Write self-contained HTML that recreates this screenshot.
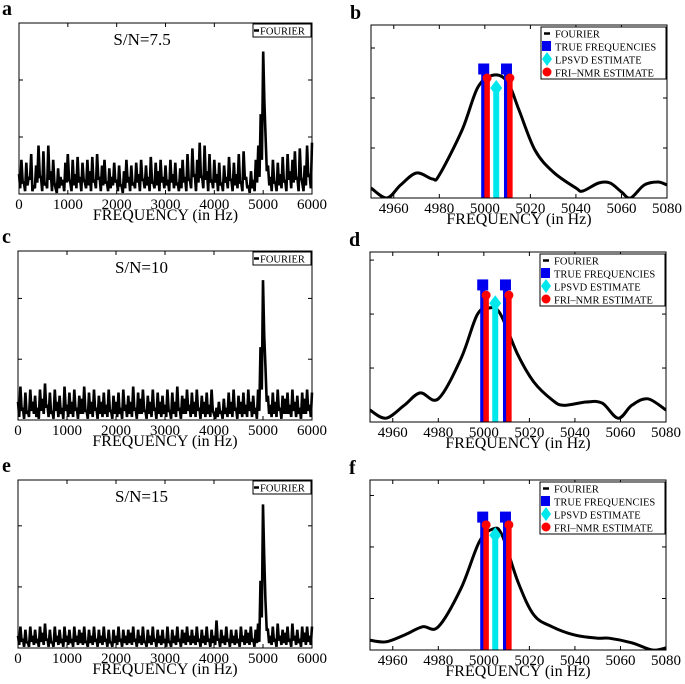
<!DOCTYPE html>
<html><head><meta charset="utf-8"><style>
html,body{margin:0;padding:0;background:#fff;}
svg{display:block;font-family:"Liberation Serif",serif;}
</style></head><body>
<svg id="fig" width="685" height="684" viewBox="0 0 685 684" xmlns="http://www.w3.org/2000/svg"></svg>
<script>
// ---------- DATA ----------
const wideTicks = [0,1000,2000,3000,4000,5000,6000];
const zoomTicks = [4960,4980,5000,5020,5040,5060,5080];
const noiseStep = 50; // Hz per bin; each bin has a max and a min value
const noiseA = [0.35,0.6,0.2,0.55,0.3,0.7,0.15,0.5,0.85,0.3,0.75,0.2,0.85,0.4,0.6,0.1,0.45,0.3,0.25,0.55,
 0.7,0.2,0.6,0.35,0.65,0.3,0.55,0.2,0.6,0.4,0.65,0.25,0.7,0.3,0.5,0.6,0.2,0.45,0.3,0.55,
 0.25,0.5,0.15,0.4,0.6,0.3,0.5,0.2,0.55,0.35,0.6,0.25,0.5,0.3,0.65,0.2,0.55,0.4,0.6,0.3,
 0.5,0.25,0.6,0.35,0.55,0.2,0.45,0.6,0.3,0.7,0.25,0.8,0.35,0.6,0.9,0.3,0.85,0.4,0.7,0.25,
 0.6,0.35,0.55,0.2,0.5,0.3,0.65,0.25,0.55,0.35,0.7,0.2,0.75,0.3,0.15,0.4,0.25,0.6,0.85,1.4,
 2.5,1.0,0.5,0.3,0.6,0.2,0.55,0.35,0.65,0.25,0.7,0.4,0.6,0.75,0.3,0.8,0.2,0.5,0.85,0.35,0.9];
const noiseALow = [0.1,0.2,0.05,0.15,0.25,0.05,0.1,0.2,0.3,0.05,0.15,0.1,0.25,0.05,0.2,0.02,0.1,0.15,0.05,0.2,
 0.25,0.05,0.15,0.1,0.2,0.05,0.25,0.1,0.15,0.05,0.2,0.1,0.25,0.05,0.15,0.2,0.05,0.1,0.15,0.2,
 0.05,0.15,0.02,0.1,0.2,0.05,0.15,0.1,0.2,0.05,0.25,0.1,0.15,0.05,0.2,0.1,0.15,0.05,0.2,0.1,
 0.15,0.05,0.2,0.1,0.15,0.05,0.1,0.2,0.05,0.25,0.1,0.3,0.05,0.2,0.3,0.1,0.25,0.05,0.2,0.1,
 0.2,0.05,0.15,0.05,0.2,0.1,0.25,0.05,0.15,0.1,0.2,0.05,0.25,0.1,0.02,0.1,0.05,0.2,0.3,0.6,
 1.6,0.4,0.15,0.05,0.2,0.05,0.15,0.1,0.2,0.05,0.25,0.1,0.2,0.25,0.05,0.3,0.05,0.15,0.3,0.1,0.3];
const noiseC = [0.3,0.55,0.2,0.45,0.15,0.5,0.3,0.4,0.2,0.5,0.35,0.6,0.25,0.45,0.15,0.5,0.3,0.4,0.2,0.55,
 0.25,0.45,0.3,0.5,0.2,0.4,0.35,0.55,0.15,0.45,0.3,0.5,0.2,0.4,0.3,0.45,0.25,0.5,0.15,0.4,
 0.3,0.45,0.2,0.5,0.25,0.4,0.3,0.55,0.2,0.45,0.35,0.5,0.15,0.4,0.3,0.5,0.2,0.45,0.3,0.4,
 0.25,0.5,0.15,0.45,0.3,0.55,0.2,0.4,0.35,0.5,0.25,0.45,0.3,0.5,0.2,0.4,0.3,0.45,0.25,0.5,
 0.1,0.2,0.3,0.15,0.35,0.2,0.45,0.3,0.5,0.2,0.4,0.3,0.45,0.25,0.5,0.3,0.4,0.2,0.5,1.2,
 2.3,0.9,0.4,0.25,0.45,0.3,0.5,0.2,0.4,0.35,0.45,0.25,0.5,0.3,0.4,0.2,0.45,0.35,0.5,0.25,0.45];
const noiseCLow = [0.05,0.15,0.02,0.1,0.05,0.15,0.1,0.05,0.02,0.15,0.1,0.2,0.05,0.1,0.02,0.15,0.05,0.1,0.02,0.15,
 0.05,0.1,0.05,0.15,0.02,0.1,0.1,0.15,0.02,0.1,0.05,0.15,0.02,0.1,0.05,0.1,0.05,0.15,0.02,0.1,
 0.05,0.1,0.02,0.15,0.05,0.1,0.05,0.15,0.02,0.1,0.1,0.15,0.02,0.1,0.05,0.15,0.02,0.1,0.05,0.1,
 0.05,0.15,0.02,0.1,0.05,0.15,0.02,0.1,0.1,0.15,0.05,0.1,0.05,0.15,0.02,0.1,0.05,0.1,0.05,0.15,
 0.02,0.05,0.1,0.02,0.1,0.05,0.1,0.05,0.15,0.02,0.1,0.05,0.1,0.05,0.15,0.05,0.1,0.02,0.15,0.5,
 1.4,0.3,0.1,0.05,0.1,0.05,0.15,0.02,0.1,0.1,0.1,0.05,0.15,0.05,0.1,0.02,0.1,0.1,0.15,0.05,0.1];
const noiseE = [0.2,0.35,0.15,0.3,0.1,0.35,0.2,0.3,0.15,0.35,0.25,0.4,0.15,0.3,0.1,0.35,0.2,0.3,0.15,0.35,
 0.2,0.3,0.15,0.35,0.2,0.3,0.25,0.35,0.1,0.3,0.2,0.35,0.15,0.3,0.2,0.35,0.15,0.3,0.1,0.3,
 0.2,0.35,0.15,0.3,0.2,0.3,0.25,0.35,0.15,0.3,0.2,0.35,0.1,0.3,0.2,0.35,0.15,0.3,0.2,0.3,
 0.15,0.35,0.1,0.3,0.2,0.35,0.15,0.3,0.25,0.35,0.2,0.3,0.2,0.35,0.15,0.3,0.2,0.35,0.15,0.3,
 0.2,0.45,0.15,0.3,0.2,0.35,0.15,0.3,0.2,0.3,0.15,0.35,0.2,0.3,0.25,0.35,0.15,0.3,0.4,1.1,
 2.35,0.8,0.3,0.2,0.35,0.15,0.4,0.2,0.3,0.25,0.35,0.15,0.4,0.2,0.3,0.15,0.35,0.25,0.35,0.2,0.35];
const noiseELow = [0.05,0.1,0.02,0.08,0.02,0.1,0.05,0.08,0.02,0.1,0.05,0.12,0.02,0.08,0.02,0.1,0.05,0.08,0.02,0.1,
 0.05,0.08,0.02,0.1,0.05,0.08,0.05,0.1,0.02,0.08,0.05,0.1,0.02,0.08,0.05,0.1,0.02,0.08,0.02,0.08,
 0.05,0.1,0.02,0.08,0.05,0.08,0.05,0.1,0.02,0.08,0.05,0.1,0.02,0.08,0.05,0.1,0.02,0.08,0.05,0.08,
 0.02,0.1,0.02,0.08,0.05,0.1,0.02,0.08,0.05,0.1,0.05,0.08,0.05,0.1,0.02,0.08,0.05,0.1,0.02,0.08,
 0.05,0.12,0.02,0.08,0.05,0.1,0.02,0.08,0.05,0.08,0.02,0.1,0.05,0.08,0.05,0.1,0.02,0.08,0.1,0.5,
 1.5,0.3,0.08,0.05,0.1,0.02,0.12,0.05,0.08,0.05,0.1,0.02,0.12,0.05,0.08,0.02,0.1,0.05,0.1,0.05,0.1];
const zoomFreqB = [4950,4957,4963,4970,4977,4980,4990,4997,5004,5010,5015,5022,5030,5040,5043,5050,5055,5060,5064,5070,5076,5080];
const zoomAmpB  = [0.2,0,0.26,0.5,0.38,0.46,1.36,2.22,2.46,2.32,1.76,0.96,0.52,0.2,0.14,0.3,0.3,0.12,0,0.26,0.32,0.26];
const zoomFreqD = [4950,4957,4965,4972,4980,4990,4997,5002,5007,5015,5022,5030,5035,5045,5052,5059,5065,5072,5080];
const zoomAmpD  = [0.22,0.07,0.31,0.54,0.43,1.18,1.98,2.11,2.02,1.24,0.74,0.41,0.31,0.37,0.35,0.07,0.31,0.43,0.22];
const zoomFreqF = [4950,4957,4965,4973,4980,4990,4998,5004,5008,5015,5022,5030,5040,5050,5055,5065,5074,5080];
const zoomAmpF  = [0.19,0.16,0.29,0.45,0.45,1.2,2.1,2.35,2.23,1.32,0.68,0.45,0.29,0.23,0.23,0.14,0,0.04];
const trueFreqs = [4999.5,5009.5];
const friFreqs = [5001,5011];
const lpsvdFreq = 5005;
const markerB = [2.58,2.4,2.2]; // true, fri, lpsvd heights
const markerD = [2.54,2.35,2.2];
const markerF = [2.58,2.43,2.23];
const snLabels = ["S/N=7.5","S/N=10","S/N=15"];

// ---------- DRAW ----------
const NS="http://www.w3.org/2000/svg";
const svg=document.getElementById('fig');
function el(tag,attrs,parent,text){const e=document.createElementNS(NS,tag);for(const k in attrs)e.setAttribute(k,attrs[k]);if(text!==undefined)e.textContent=text;(parent||svg).appendChild(e);return e;}

function frame(g,L,T,R,B,xmin,xmax,xticks,ymax,yticks){
  const sx=v=>L+(v-xmin)/(xmax-xmin)*(R-L);
  const sy=v=>B-v/ymax*(B-T);
  xticks.forEach(t=>{
    el('line',{x1:sx(t),x2:sx(t),y1:T,y2:T+4,stroke:'#000','stroke-width':1},g);
    el('line',{x1:sx(t),x2:sx(t),y1:B,y2:B-4,stroke:'#000','stroke-width':1},g);
    const tl=el('text',{x:sx(t),y:B+15,'font-size':15,'text-anchor':'middle'},g,String(t));
    
    
  });
  yticks.forEach(t=>{
    el('line',{x1:L,x2:L+4,y1:sy(t),y2:sy(t),stroke:'#000','stroke-width':1},g);
    el('line',{x1:R,x2:R-4,y1:sy(t),y2:sy(t),stroke:'#000','stroke-width':1},g);
  });
  const xl=el('text',{x:(L+R)/2,y:B+26,'font-size':16,'text-anchor':'middle'},g,'FREQUENCY (in Hz)');
  
  
  return {sx,sy};
}

function widePanel(name,letter,L,T,R,B,ymax,hi,lo,sn){
  const g=el('g',{},svg);
  
  
  const lt=el('text',{x:2,y:T-8,'font-size':20,'font-weight':'bold'},g,letter);
  
  
  const {sx,sy}=frame(g,L,T,R,B,0,6000,wideTicks,ymax,[1,2]);
  const pts=[];
  hi.forEach((v,i)=>{
    pts.push(sx(i*noiseStep).toFixed(1)+','+sy(v).toFixed(1));
    if(i<hi.length-1) pts.push(sx(i*noiseStep+noiseStep/2).toFixed(1)+','+sy(lo[i]).toFixed(1));
  });
  const pl=el('polyline',{points:pts.join(' '),fill:'none',stroke:'#000','stroke-width':2.6,'stroke-linejoin':'miter','stroke-miterlimit':2},g);
  
  
  el('rect',{x:L,y:T,width:R-L,height:B-T,fill:'none',stroke:'#000','stroke-width':1},g);
  const st=el('text',{x:L+(R-L)*0.42,y:T+22,'font-size':17,'text-anchor':'middle'},g,sn);
  
  
  const lg=el('g',{},g);
  
  
  el('rect',{x:R-59,y:T+1,width:58,height:13,fill:'#fff',stroke:'#000','stroke-width':1},lg);
  el('line',{x1:R-58,x2:R-53,y1:T+7.5,y2:T+7.5,stroke:'#000','stroke-width':2.5},lg);
  el('text',{x:R-52,y:T+11.5,'font-size':10.5},lg,'FOURIER');
}

function smoothPath(P){
  let d='M'+P[0][0]+','+P[0][1];
  for(let i=0;i<P.length-1;i++){
    const p0=P[Math.max(0,i-1)],p1=P[i],p2=P[i+1],p3=P[Math.min(P.length-1,i+2)];
    const c1=[p1[0]+(p2[0]-p0[0])/6,p1[1]+(p2[1]-p0[1])/6];
    const c2=[p2[0]-(p3[0]-p1[0])/6,p2[1]-(p3[1]-p1[1])/6];
    d+=' C'+c1.join(',')+' '+c2.join(',')+' '+p2.join(',');
  }
  return d;
}

function zoomPanel(name,letter,L,T,R,B,ymax,fr,amp,mk){
  const g=el('g',{},svg);
  
  
  const lt=el('text',{x:L-21,y:T-6,'font-size':20,'font-weight':'bold'},g,letter);
  
  
  const cp=el('clipPath',{id:'clip'+name},g);
  el('rect',{x:L,y:T,width:R-L,height:B-T},cp);
  const {sx,sy}=frame(g,L,T,R,B,4950,5080,zoomTicks,ymax,[1,2,3]);
  const P=fr.map((f,i)=>[+sx(f).toFixed(1),+sy(amp[i]).toFixed(1)]);
  const cv=el('path',{d:smoothPath(P),fill:'none',stroke:'#000','stroke-width':3,'clip-path':'url(#clip'+name+')'},g);
  
  
  trueFreqs.forEach(f=>{
    const ln=el('line',{x1:sx(f),x2:sx(f),y1:sy(mk[0]),y2:B,stroke:'#0000ee','stroke-width':5},g);
    
    
    const sq=el('rect',{x:sx(f)-5.5,y:sy(mk[0])-5.5,width:11,height:11,fill:'#0000ee'},g);
    
    
  });
  const lx=sx(lpsvdFreq);
  const cl=el('line',{x1:lx,x2:lx,y1:sy(mk[2]),y2:B,stroke:'#00e8ec','stroke-width':6},g);
  
  
  const cd=el('polygon',{points:`${lx},${sy(mk[2])-8} ${lx+6},${sy(mk[2])} ${lx},${sy(mk[2])+8} ${lx-6},${sy(mk[2])}`,fill:'#00e8ec'},g);
  
  
  friFreqs.forEach(f=>{
    const ln=el('line',{x1:sx(f),x2:sx(f),y1:sy(mk[1]),y2:B,stroke:'#ff0000','stroke-width':5.5},g);
    
    
    const c=el('circle',{cx:sx(f),cy:sy(mk[1]),r:4.5,fill:'#ff0000'},g);
    
    
  });
  el('rect',{x:L,y:T,width:R-L,height:B-T,fill:'none',stroke:'#000','stroke-width':1},g);
  const lg=el('g',{},g);
  
  
  const lx0=R-126,ly0=T+2;
  el('rect',{x:lx0,y:ly0,width:125,height:52,fill:'#fff',stroke:'#000','stroke-width':1},lg);
  el('line',{x1:lx0+3,x2:lx0+9,y1:ly0+6.5,y2:ly0+6.5,stroke:'#000','stroke-width':2.5},lg);
  el('rect',{x:lx0+1,y:ly0+14,width:9,height:10,fill:'#0000ee'},lg);
  el('polygon',{points:`${lx0+6},${ly0+25} ${lx0+11},${ly0+32} ${lx0+6},${ly0+39} ${lx0+1},${ly0+32}`,fill:'#00e8ec'},lg);
  el('circle',{cx:lx0+6,cy:ly0+45,r:4.5,fill:'#ff0000'},lg);
  ['FOURIER','TRUE FREQUENCIES','LPSVD ESTIMATE','FRI\u2013NMR ESTIMATE'].forEach((t,i)=>{
    const tx=el('text',{x:lx0+14,y:ly0+10.5+i*13,'font-size':10.5},lg,t);
    
    
  });
}

widePanel('a','a',19,23,312,194,3.0,noiseA,noiseALow,snLabels[0]);
widePanel('c','c',18,251,312,420,2.78,noiseC,noiseCLow,snLabels[1]);
widePanel('e','e',18,480,312,648,2.75,noiseE,noiseELow,snLabels[2]);
zoomPanel('b','b',371,25,667,198,3.46,zoomFreqB,zoomAmpB,markerB);
zoomPanel('d','d',370,252,666,422,3.15,zoomFreqD,zoomAmpD,markerD);
zoomPanel('f','f',370,480,666,650,3.3,zoomFreqF,zoomAmpF,markerF);
</script>
</body></html>
